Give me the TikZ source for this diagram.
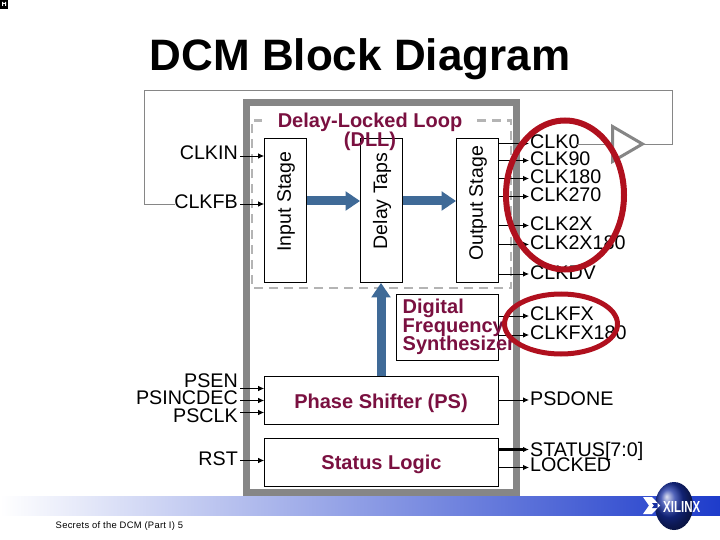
\documentclass[tikz,border=0pt]{standalone}
\usepackage{fontspec}
\setmainfont{Liberation Sans}
\newfontfamily\footfont[LetterSpace=3]{Liberation Sans}
\usetikzlibrary{arrows.meta,shapes.geometric,positioning}
\definecolor{dllred}{HTML}{7A1040}
\definecolor{ringred}{HTML}{B0101E}
\definecolor{framegray}{HTML}{868686}
\definecolor{dashgray}{HTML}{B4B4B4}
\definecolor{busblue}{HTML}{3F6A97}
\definecolor{bandblue}{HTML}{1E3CCB}
\tikzset{
  basic/.style   = {draw, thick, fill=white, inner sep=0pt},
  stagebox/.style = {basic, minimum width=42pt, minimum height=144pt},
  widebox/.style = {basic, minimum width=234pt, minimum height=48pt},
  stagetext/.style = {font=\fontsize{19.5}{19.5}\selectfont, rotate=90, inner sep=0pt},
  blocktext/.style = {font=\fontsize{20}{18.8}\selectfont\bfseries, text=dllred, align=center, inner sep=0pt},
  sig/.style     = {font=\fontsize{19.7}{19.7}\selectfont, inner sep=0pt},
  sigl/.style    = {sig, anchor=east},
  sigr/.style    = {sig, anchor=west},
  bus/.style     = {draw=busblue, line width=9pt, -{Triangle[length=14.5pt,width=18.5pt]}},
  wire/.style    = {draw, thick, -{Latex[length=6pt,width=5.5pt]}},
  ring/.style    = {draw=ringred, ellipse, inner sep=0pt},
  fbline/.style  = {draw=framegray, thick}
}
\begin{document}
\begin{tikzpicture}[x=1pt,y=-1pt]
\useasboundingbox (0,0) rectangle (720,540);

% corner mark
\fill[black] (0,0) rectangle (8,9);
\fill[white] (2,2) rectangle (3,6) (5,2) rectangle (6,6) (3,3) rectangle (5,4);

% bottom band and logo
\shade[left color=white, middle color=bandblue!50, right color=bandblue] (0,496) rectangle (720,515.5);
\node[ellipse, minimum width=38pt, minimum height=48pt, inner sep=0pt, ball color=bandblue!80!black] (globe) at (674,506) {};
\node[font=\fontsize{16}{16}\selectfont\bfseries, text=white, inner sep=0pt, xscale=.72, anchor=west] (logo) at (663,506.5) {XILINX};
\fill[white] (643,497) -- (652,497) -- (660,505.5) -- (652,514) -- (643,514) -- (649,505.5) -- cycle;
\fill[bandblue!80!black] (652,503) -- (657.5,503) -- (657.5,508) -- (652,508) -- (654,505.5) -- cycle;
\node[font=\fontsize{9.4}{9.4}\selectfont\footfont, anchor=west, inner sep=0pt] (foot) at (55.5,526) {Secrets of the DCM (Part I) 5};

% title
\node[font=\fontsize{44}{44}\selectfont\bfseries, inner sep=0pt] (title) at (360,59) {DCM Block Diagram};

% frame and dashed DLL region
\draw[framegray, line width=7pt] (246.5,102.5) rectangle (516.5,492.5);
\draw[dashgray, line width=2.5pt, dash pattern=on 9pt off 6pt]
  (477,120.5) -- (511,120.5) -- (511,288) -- (252,288) -- (252,120.5) -- (262,120.5);

% feedback line
\coordinate (fbin) at (175,204);
\coordinate (fb1) at (144.5,90.5);
\coordinate (fb2) at (672.5,90.5);

% the blocks
\node[stagebox] (input) at (285.5,210.5) {};
\node[stagebox] (taps) at (381.5,210.5) {};
\node[stagebox] (output) at (477.5,210.5) {};
\node[basic, minimum width=102pt, minimum height=65.5pt] (dfs) at (447.5,327.25) {};
\node[widebox] (ps) at (381.5,400.5) {};
\node[widebox] (status) at (381.5,462.5) {};

\node[stagetext] (inputtxt) at (286,201.7) {Input Stage};
\node[stagetext] (tapstxt) at (382,201) {Delay Taps};
\node[stagetext] (outputtxt) at (478,203.5) {Output Stage};
\node[blocktext] (dll) at (370,131.5) {Delay-Locked Loop\\(DLL)};
\node[blocktext, align=left, anchor=west] (dfstxt) at (402.5,327) {Digital\\Frequency\\Synthesizer};
\node[blocktext] (pstxt) at (381,403) {Phase Shifter (PS)};
\node[blocktext] (statustxt) at (381.5,464) {Status Logic};

% buses between the blocks
\draw[bus] ([yshift=9.5pt]input.east) -- ([yshift=9.5pt]taps.west);
\draw[bus] ([yshift=9.5pt]taps.east) -- ([yshift=9.5pt]output.west);
\draw[bus] ([xshift=-.5pt]ps.north) -- ([xshift=-.5pt]taps.south);

% inputs
\foreach \name/\txt/\ty/\wy in {clkin/CLKIN/153/156, clkfb/CLKFB/201.5/204,
    psen/PSEN/380.5/388.5, psincdec/PSINCDEC/398/400.5, psclk/PSCLK/416/412.5, rst/RST/459/460.5} {
  \node[sigl] (\name) at (238,\ty) {\txt};
  \coordinate (\name w) at (240,\wy);
}
\foreach \name in {clkin,clkfb} \draw[wire] (\name w) -- (\name w -| input.west);
\foreach \name in {psen,psincdec,psclk} \draw[wire] (\name w) -- (\name w -| ps.west);
\draw[wire] (rstw) -- (rstw -| status.west);

% outputs
\foreach \name/\txt/\ty/\wy in {clko/CLK0/141.5/143.5, clkn/CLK90/158.5/160.5, clko8/CLK180/177/178.5,
    clkt/CLK270/195/196.5, clkx/CLK2X/224/225.5, clkxo/CLK2X180/243/244.5, clkdv/CLKDV/272.5/274,
    clkfx/CLKFX/314/316, clkfxo/CLKFX180/333/335, psdone/PSDONE/398.5/400,
    stat/STATUS[7:0]/451/449.5, locked/LOCKED/465/467.5} {
  \node[sigr] (\name) at (530,\ty) {\txt};
  \coordinate (\name w) at (529,\wy);
}
\foreach \name in {clko,clkn,clko8,clkt,clkx,clkxo,clkdv} \draw[wire] (\name w -| output.east) -- (\name w);
\foreach \name in {clkfx,clkfxo} \draw[wire] (\name w -| dfs.east) -- (\name w);
\draw[wire] (psdonew -| ps.east) -- (psdonew);
\draw[wire, line width=2.5pt] (statw -| status.east) -- (statw);
\draw[wire] (lockedw -| status.east) -- (lockedw);

% feedback buffer
\coordinate (bufa) at (612.5,126.5);
\coordinate (bufb) at (612.5,161.5);
\coordinate (buft) at (642.5,144);
\draw[framegray, line width=3pt] (bufa) -- (buft) -- (bufb) -- cycle;
\draw[fbline] (577,144) -- (bufa |- buft);
\draw[fbline] (buft) -- (fb2 |- buft) -- (fb2) -- (fb1) -- (fb1 |- fbin) -- (fbin);

% red rings
\node[ring, line width=6pt, minimum width=118pt, minimum height=149pt] (ringdll) at (565,195) {};
\node[ring, line width=5pt, minimum width=113pt, minimum height=60pt] (ringfx) at (561,324) {};
\end{tikzpicture}
\end{document}
